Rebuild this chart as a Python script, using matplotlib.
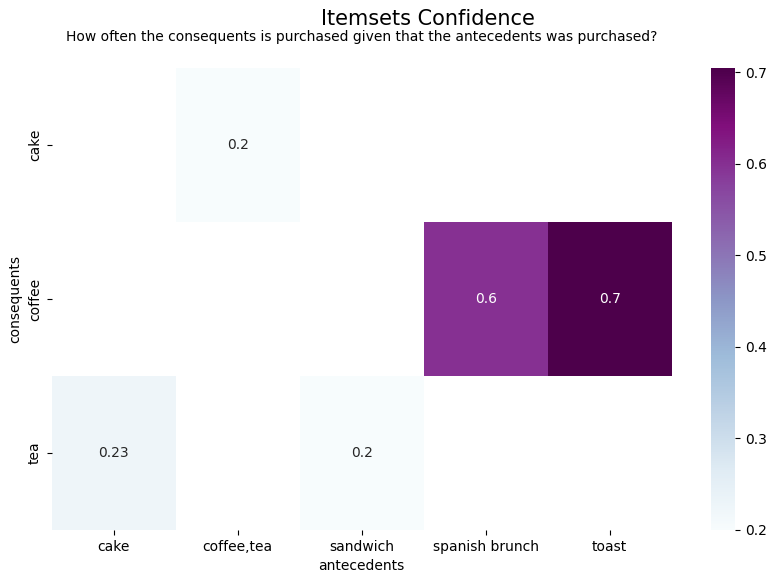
import numpy as np
import pandas as pd
import seaborn as sns
import matplotlib
matplotlib.use('Agg')
import matplotlib.pyplot as plt

antecedents = ['cake', 'coffee,tea', 'sandwich', 'spanish brunch', 'toast']
consequents = ['cake', 'coffee', 'tea']
confidence = [
    [np.nan, 0.2, np.nan, np.nan, np.nan],
    [np.nan, np.nan, np.nan, 0.6, 0.7045],
    [0.227, np.nan, 0.2, np.nan, np.nan],
]

df = pd.DataFrame(confidence, index=consequents, columns=antecedents)
df.index.name = 'consequents'
df.columns.name = 'antecedents'

fig = plt.figure(figsize=(7.72, 5.79), dpi=100)
ax = fig.add_axes([0.067, 0.085, 0.803, 0.797])
cax = fig.add_axes([0.921, 0.085, 0.031, 0.797])
sns.heatmap(df, annot=True, cmap='BuPu', ax=ax, cbar_ax=cax)
fig.suptitle('Itemsets Confidence', fontsize=15, x=0.554, y=0.985)
ax.set_title('How often the consequents is purchased given that the antecedents was purchased?',
             fontsize=10, pad=20)
fig.savefig('out.png')
